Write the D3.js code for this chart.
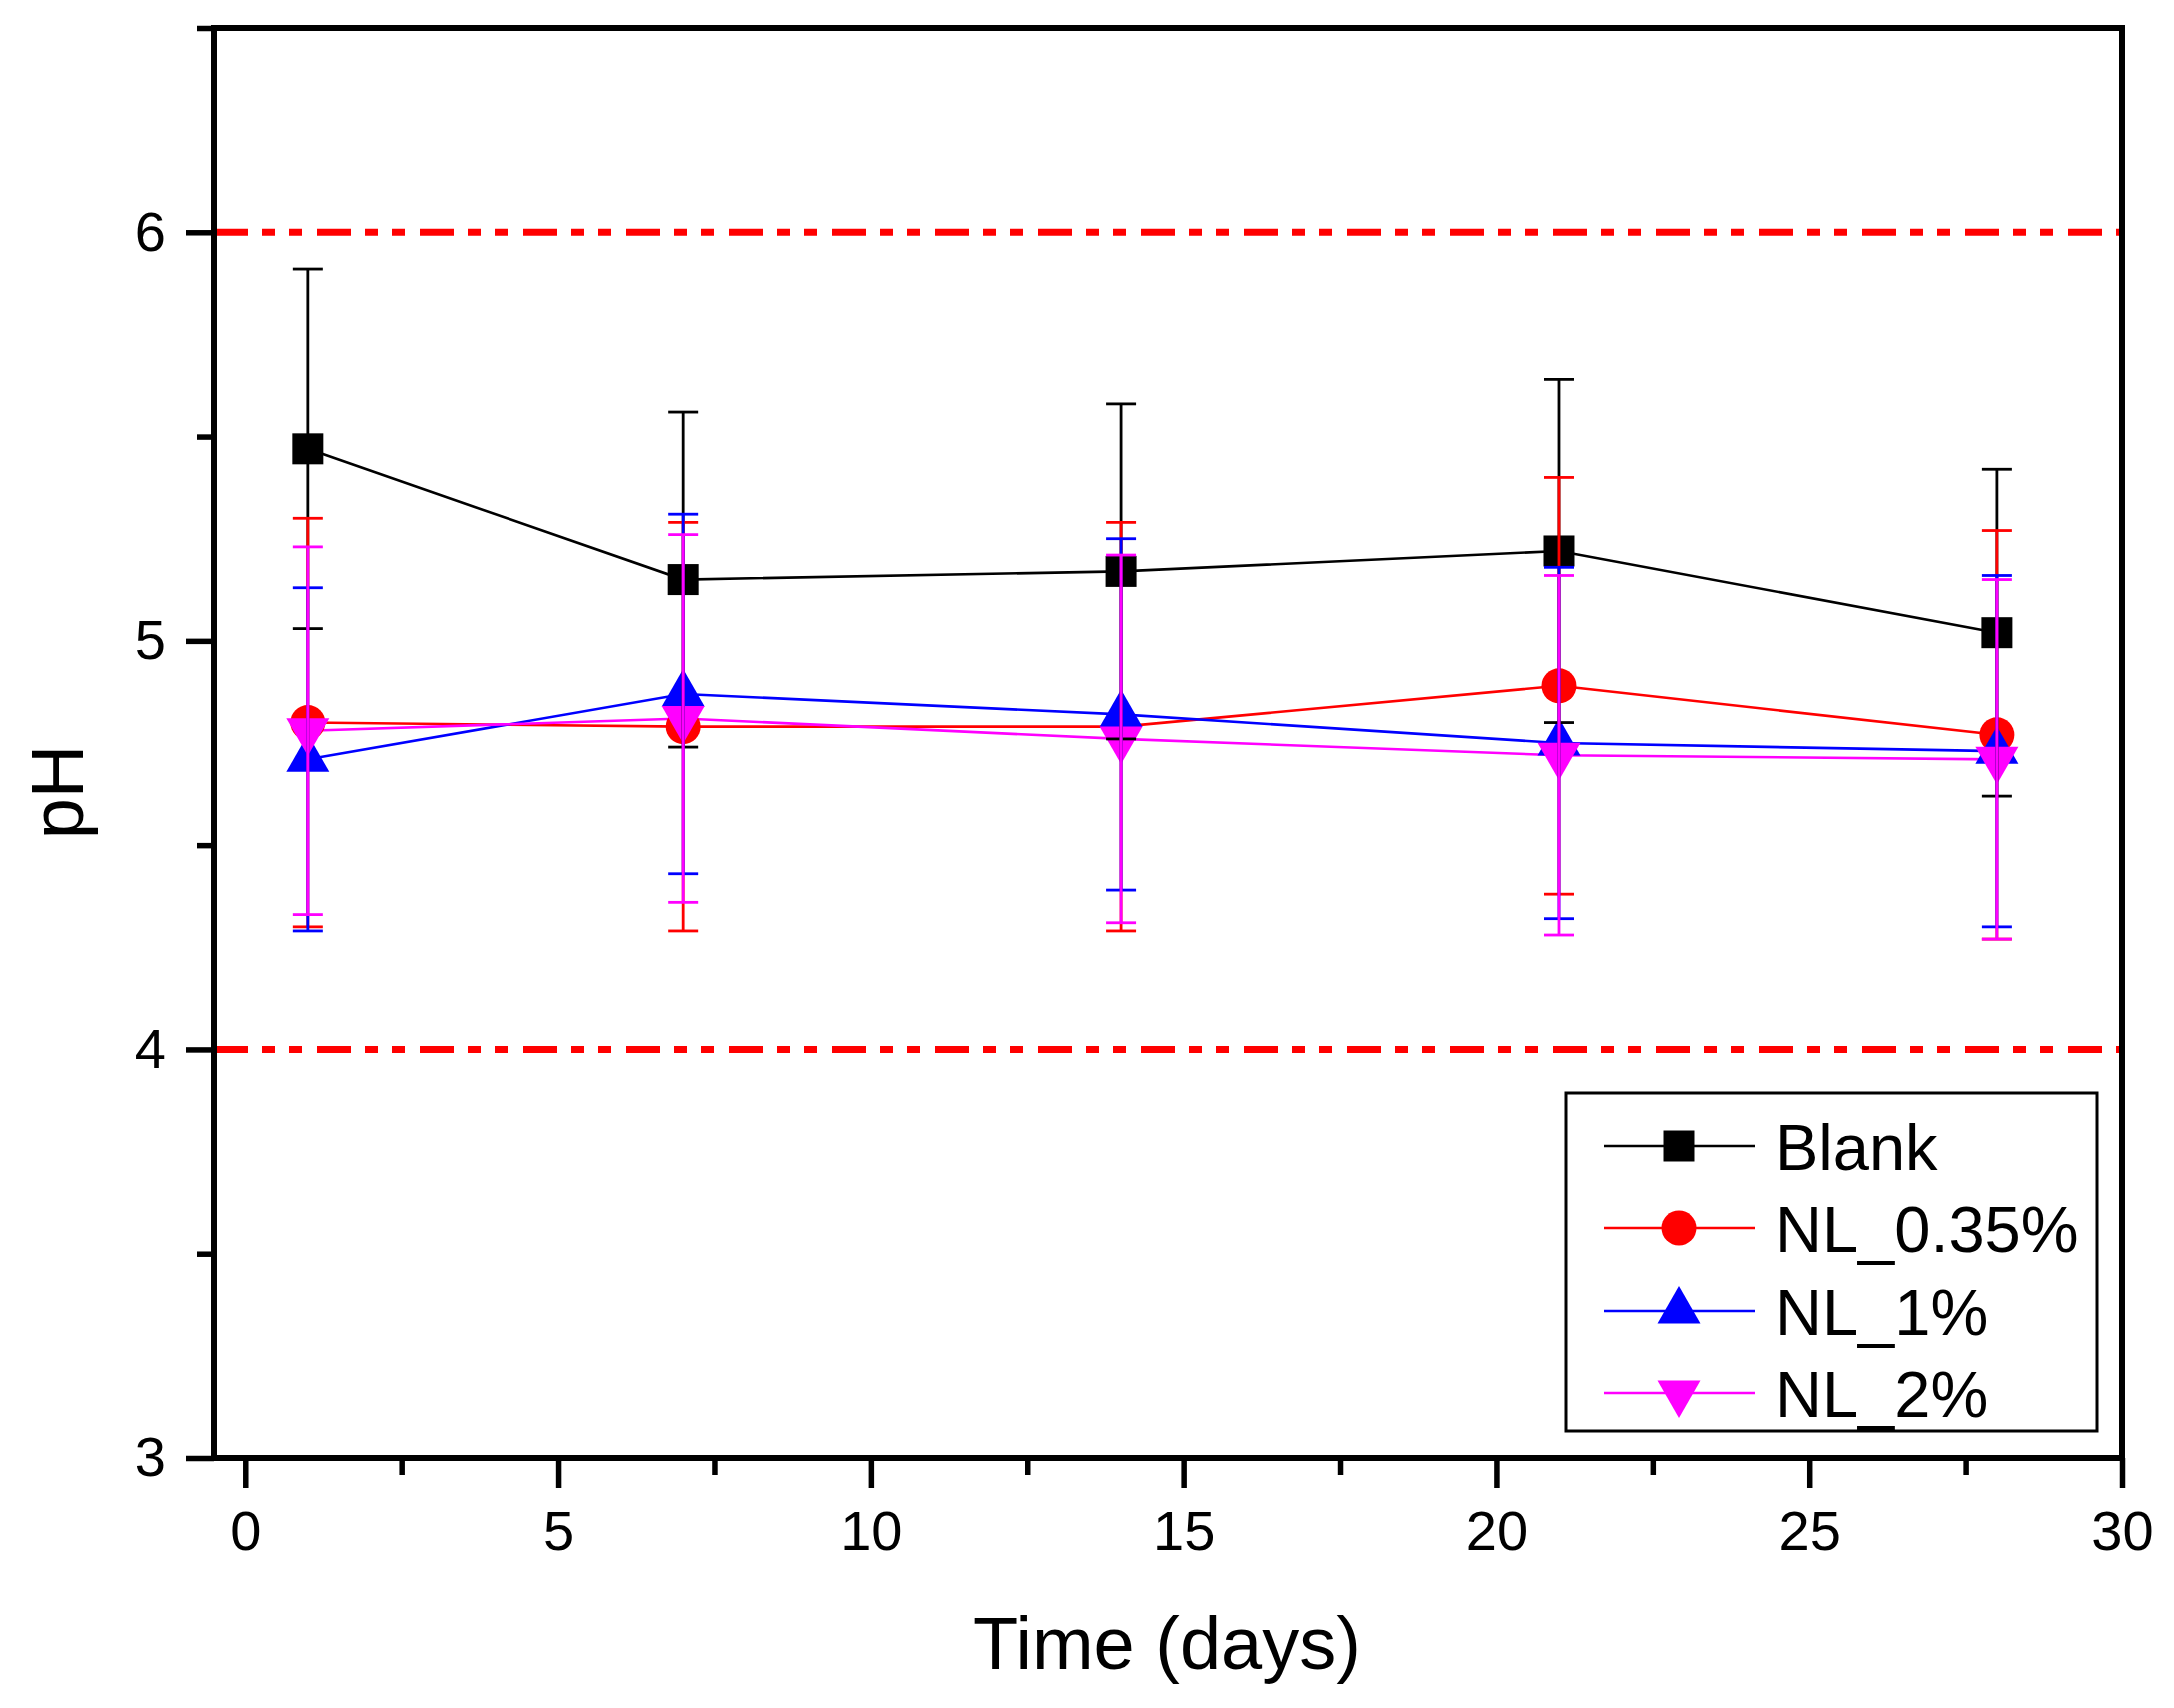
<!DOCTYPE html>
<html>
<head>
<meta charset="utf-8">
<script src="https://cdn.jsdelivr.net/npm/d3@7"></script>
<style>
  html, body { margin: 0; padding: 0; background: #fff; }
  svg { display: block; }
  text { font-family: "Liberation Sans", Arial, Helvetica, sans-serif; fill: #000; }
</style>
</head>
<body>
<svg id="chart" width="2174" height="1708"></svg>
<script>
// ---- Data ----
const days = [1, 7, 14, 21, 28];
const seriesNames = ["Blank", "NL_0.35%", "NL_1%", "NL_2%"];
const blankMean = [5.47, 5.15, 5.17, 5.22, 5.02];
const blankErr  = [0.44, 0.41, 0.41, 0.42, 0.40];
const nl035Mean = [4.80, 4.79, 4.79, 4.89, 4.77];
const nl035Err  = [0.50, 0.50, 0.50, 0.51, 0.50];
const nl1Mean   = [4.71, 4.87, 4.82, 4.75, 4.73];
const nl1Err    = [0.42, 0.44, 0.43, 0.43, 0.43];
const nl2Mean   = [4.78, 4.81, 4.76, 4.72, 4.71];
const nl2Err    = [0.45, 0.45, 0.45, 0.44, 0.44];
const limitLines = [6, 4];
const xMajorTicks = [0, 5, 10, 15, 20, 25, 30];
const xMinorTicks = [2.5, 7.5, 12.5, 17.5, 22.5, 27.5];
const yMajorTicks = [3, 4, 5, 6];
const yMinorTicks = [3.5, 4.5, 5.5, 6.5];
const xTitle = "Time (days)";
const yTitle = "pH";

const colors = ["#000000", "#ff0000", "#0000ff", "#ff00ff"];
const shapes = ["square", "circle", "triUp", "triDown"];
const means = [blankMean, nl035Mean, nl1Mean, nl2Mean];
const errs = [blankErr, nl035Err, nl1Err, nl2Err];

const series = seriesNames.map((name, i) => ({
  name, color: colors[i], shape: shapes[i],
  points: days.map((d, j) => ({ x: d, y: means[i][j], e: errs[i][j] }))
}));

// ---- Layout ----
const L = 214, R = 2122, T = 28, B = 1458;
const svg = d3.select("#chart");
const x = d3.scaleLinear().domain([-0.5, 30]).range([L, R]);
const y = d3.scaleLinear().domain([3, 6.5]).range([B, T]);

function symbolPath(shape) {
  if (shape === "square") { const s = 15.5; return `M${-s},${-s}H${s}V${s}H${-s}Z`; }
  if (shape === "circle") { const r = 17.5; return `M${r},0A${r},${r} 0 1,1 ${-r},0A${r},${r} 0 1,1 ${r},0Z`; }
  const w = 43, h = 37.5;
  if (shape === "triUp") return `M0,${-2*h/3}L${w/2},${h/3}L${-w/2},${h/3}Z`;
  return `M0,${2*h/3}L${w/2},${-h/3}L${-w/2},${-h/3}Z`;
}

// ---- Limit lines (dash-dot-dot) ----
svg.append("g").selectAll("line").data(limitLines).join("line")
  .attr("x1", L).attr("x2", R)
  .attr("y1", d => y(d)).attr("y2", d => y(d))
  .attr("stroke", "#ff0000").attr("stroke-width", 7)
  .attr("stroke-dasharray", "34,14,13,14,13,15");

// ---- Series lines ----
const line = d3.line().x(d => x(d.x)).y(d => y(d.y));
svg.append("g").selectAll("path").data(series).join("path")
  .attr("d", s => line(s.points))
  .attr("fill", "none").attr("stroke", s => s.color).attr("stroke-width", 2.6);

// ---- Markers ----
series.forEach(s => {
  svg.append("g").selectAll("path").data(s.points).join("path")
    .attr("transform", d => `translate(${x(d.x)},${y(d.y)})`)
    .attr("d", symbolPath(s.shape))
    .attr("fill", s.color);
});

// ---- Error bars ----
const capW = 15;
series.forEach(s => {
  const g = svg.append("g").attr("stroke", s.color).attr("stroke-width", 2.8).attr("fill", "none");
  s.points.forEach(d => {
    const cx = x(d.x);
    g.append("line").attr("x1", cx).attr("x2", cx).attr("y1", y(d.y + d.e)).attr("y2", y(d.y - d.e));
    g.append("line").attr("x1", cx - capW).attr("x2", cx + capW).attr("y1", y(d.y + d.e)).attr("y2", y(d.y + d.e));
    g.append("line").attr("x1", cx - capW).attr("x2", cx + capW).attr("y1", y(d.y - d.e)).attr("y2", y(d.y - d.e));
  });
});

// ---- Axes ----
const fontTick = 56;
const xAxisMajor = d3.axisBottom(x).tickValues(xMajorTicks).tickSize(30).tickPadding(22).tickSizeOuter(0).tickFormat(d3.format("d"));
const xAxisMinor = d3.axisBottom(x).tickValues(xMinorTicks).tickSize(17).tickSizeOuter(0).tickFormat("");
const yAxisMajor = d3.axisLeft(y).tickValues(yMajorTicks).tickSize(28).tickPadding(20).tickSizeOuter(0).tickFormat(d3.format("d"));
const yAxisMinor = d3.axisLeft(y).tickValues(yMinorTicks).tickSize(17).tickSizeOuter(0).tickFormat("");

function styleAxis(g) {
  g.select(".domain").remove();
  g.selectAll(".tick line").attr("stroke", "#000").attr("stroke-width", 5.5);
  g.selectAll(".tick text").attr("font-size", fontTick).attr("fill", "#000")
    .attr("font-family", "'Liberation Sans', Arial, sans-serif");
}
svg.append("g").attr("transform", `translate(0,${B})`).call(xAxisMajor).call(styleAxis);
svg.append("g").attr("transform", `translate(0,${B})`).call(xAxisMinor).call(styleAxis);
svg.append("g").attr("transform", `translate(${L},0)`).call(yAxisMajor).call(styleAxis);
svg.append("g").attr("transform", `translate(${L},0)`).call(yAxisMinor).call(styleAxis);

// ---- Frame ----
svg.append("rect").attr("x", L).attr("y", T).attr("width", R - L).attr("height", B - T)
  .attr("fill", "none").attr("stroke", "#000").attr("stroke-width", 6);

// ---- Axis titles ----
svg.append("text").attr("x", 1167).attr("y", 1669).attr("text-anchor", "middle")
  .attr("font-size", 74).text(xTitle);
svg.append("text").attr("transform", "translate(83,792) rotate(-90)").attr("text-anchor", "middle")
  .attr("font-size", 74).text(yTitle);

// ---- Legend ----
const legX = 1566, legY = 1093, legW = 531, legH = 338;
const leg = svg.append("g");
leg.append("rect").attr("x", legX).attr("y", legY).attr("width", legW).attr("height", legH)
  .attr("fill", "#fff").attr("stroke", "#000").attr("stroke-width", 3);
const rowY = [1146, 1228, 1311, 1393];
series.forEach((s, i) => {
  const ry = rowY[i];
  leg.append("line").attr("x1", 1604).attr("x2", 1755).attr("y1", ry).attr("y2", ry)
    .attr("stroke", s.color).attr("stroke-width", 2.6);
  leg.append("path").attr("transform", `translate(1679,${ry})`).attr("d", symbolPath(s.shape)).attr("fill", s.color);
  leg.append("text").attr("x", 1775).attr("y", ry + 23.5).attr("font-size", 65).text(s.name);
});
</script>
</body>
</html>
